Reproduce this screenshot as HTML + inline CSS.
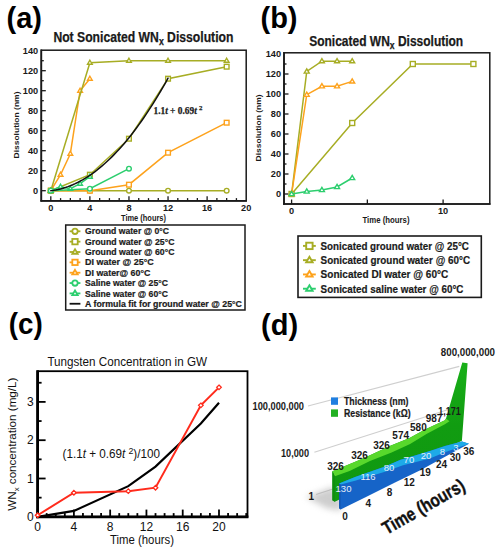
<!DOCTYPE html>
<html><head><meta charset="utf-8"><style>
html,body{margin:0;padding:0;background:#fff;width:501px;height:550px;overflow:hidden}
svg{display:block}
</style></head><body>
<svg width="501" height="550" viewBox="0 0 501 550">
<rect width="501" height="550" fill="#fff"/>
<rect x="41.3" y="50.2" width="204.89999999999998" height="150.60000000000002" fill="none" stroke="#1a1a1a" stroke-width="1.5"/>
<line x1="41.3" y1="49.5" x2="41.3" y2="201.5" stroke="#1a1a1a" stroke-width="1.7"/>
<line x1="40.4" y1="200.8" x2="246.89999999999998" y2="200.8" stroke="#1a1a1a" stroke-width="1.7"/>
<line x1="41.30" y1="190.70" x2="45.80" y2="190.70" stroke="#1a1a1a" stroke-width="1.3" />
<line x1="41.30" y1="180.70" x2="43.80" y2="180.70" stroke="#1a1a1a" stroke-width="1.3" />
<line x1="41.30" y1="170.70" x2="45.80" y2="170.70" stroke="#1a1a1a" stroke-width="1.3" />
<line x1="41.30" y1="160.70" x2="43.80" y2="160.70" stroke="#1a1a1a" stroke-width="1.3" />
<line x1="41.30" y1="150.70" x2="45.80" y2="150.70" stroke="#1a1a1a" stroke-width="1.3" />
<line x1="41.30" y1="140.70" x2="43.80" y2="140.70" stroke="#1a1a1a" stroke-width="1.3" />
<line x1="41.30" y1="130.70" x2="45.80" y2="130.70" stroke="#1a1a1a" stroke-width="1.3" />
<line x1="41.30" y1="120.70" x2="43.80" y2="120.70" stroke="#1a1a1a" stroke-width="1.3" />
<line x1="41.30" y1="110.70" x2="45.80" y2="110.70" stroke="#1a1a1a" stroke-width="1.3" />
<line x1="41.30" y1="100.70" x2="43.80" y2="100.70" stroke="#1a1a1a" stroke-width="1.3" />
<line x1="41.30" y1="90.70" x2="45.80" y2="90.70" stroke="#1a1a1a" stroke-width="1.3" />
<line x1="41.30" y1="80.70" x2="43.80" y2="80.70" stroke="#1a1a1a" stroke-width="1.3" />
<line x1="41.30" y1="70.70" x2="45.80" y2="70.70" stroke="#1a1a1a" stroke-width="1.3" />
<line x1="41.30" y1="60.70" x2="43.80" y2="60.70" stroke="#1a1a1a" stroke-width="1.3" />
<line x1="50.80" y1="200.80" x2="50.80" y2="196.30" stroke="#1a1a1a" stroke-width="1.3" />
<line x1="60.57" y1="200.80" x2="60.57" y2="198.10" stroke="#1a1a1a" stroke-width="1.3" />
<line x1="70.34" y1="200.80" x2="70.34" y2="198.10" stroke="#1a1a1a" stroke-width="1.3" />
<line x1="80.11" y1="200.80" x2="80.11" y2="198.10" stroke="#1a1a1a" stroke-width="1.3" />
<line x1="89.88" y1="200.80" x2="89.88" y2="196.30" stroke="#1a1a1a" stroke-width="1.3" />
<line x1="99.65" y1="200.80" x2="99.65" y2="198.10" stroke="#1a1a1a" stroke-width="1.3" />
<line x1="109.42" y1="200.80" x2="109.42" y2="198.10" stroke="#1a1a1a" stroke-width="1.3" />
<line x1="119.19" y1="200.80" x2="119.19" y2="198.10" stroke="#1a1a1a" stroke-width="1.3" />
<line x1="128.96" y1="200.80" x2="128.96" y2="196.30" stroke="#1a1a1a" stroke-width="1.3" />
<line x1="138.73" y1="200.80" x2="138.73" y2="198.10" stroke="#1a1a1a" stroke-width="1.3" />
<line x1="148.50" y1="200.80" x2="148.50" y2="198.10" stroke="#1a1a1a" stroke-width="1.3" />
<line x1="158.27" y1="200.80" x2="158.27" y2="198.10" stroke="#1a1a1a" stroke-width="1.3" />
<line x1="168.04" y1="200.80" x2="168.04" y2="196.30" stroke="#1a1a1a" stroke-width="1.3" />
<line x1="177.81" y1="200.80" x2="177.81" y2="198.10" stroke="#1a1a1a" stroke-width="1.3" />
<line x1="187.58" y1="200.80" x2="187.58" y2="198.10" stroke="#1a1a1a" stroke-width="1.3" />
<line x1="197.35" y1="200.80" x2="197.35" y2="198.10" stroke="#1a1a1a" stroke-width="1.3" />
<line x1="207.12" y1="200.80" x2="207.12" y2="196.30" stroke="#1a1a1a" stroke-width="1.3" />
<line x1="216.89" y1="200.80" x2="216.89" y2="198.10" stroke="#1a1a1a" stroke-width="1.3" />
<line x1="226.66" y1="200.80" x2="226.66" y2="198.10" stroke="#1a1a1a" stroke-width="1.3" />
<line x1="236.43" y1="200.80" x2="236.43" y2="198.10" stroke="#1a1a1a" stroke-width="1.3" />
<text x="38.20" y="194.00" font-size="9.2" text-anchor="end" font-weight="bold" font-family='"Liberation Sans", sans-serif' fill="#1a1a1a" >0</text>
<text x="38.20" y="174.00" font-size="9.2" text-anchor="end" font-weight="bold" font-family='"Liberation Sans", sans-serif' fill="#1a1a1a" >20</text>
<text x="38.20" y="154.00" font-size="9.2" text-anchor="end" font-weight="bold" font-family='"Liberation Sans", sans-serif' fill="#1a1a1a" >40</text>
<text x="38.20" y="134.00" font-size="9.2" text-anchor="end" font-weight="bold" font-family='"Liberation Sans", sans-serif' fill="#1a1a1a" >60</text>
<text x="38.20" y="114.00" font-size="9.2" text-anchor="end" font-weight="bold" font-family='"Liberation Sans", sans-serif' fill="#1a1a1a" >80</text>
<text x="38.20" y="94.00" font-size="9.2" text-anchor="end" font-weight="bold" font-family='"Liberation Sans", sans-serif' fill="#1a1a1a" >100</text>
<text x="38.20" y="74.00" font-size="9.2" text-anchor="end" font-weight="bold" font-family='"Liberation Sans", sans-serif' fill="#1a1a1a" >120</text>
<text x="38.20" y="54.00" font-size="9.2" text-anchor="end" font-weight="bold" font-family='"Liberation Sans", sans-serif' fill="#1a1a1a" >140</text>
<text x="50.80" y="211.30" font-size="9.2" text-anchor="middle" font-weight="bold" font-family='"Liberation Sans", sans-serif' fill="#1a1a1a" >0</text>
<text x="89.88" y="211.30" font-size="9.2" text-anchor="middle" font-weight="bold" font-family='"Liberation Sans", sans-serif' fill="#1a1a1a" >4</text>
<text x="128.96" y="211.30" font-size="9.2" text-anchor="middle" font-weight="bold" font-family='"Liberation Sans", sans-serif' fill="#1a1a1a" >8</text>
<text x="168.04" y="211.30" font-size="9.2" text-anchor="middle" font-weight="bold" font-family='"Liberation Sans", sans-serif' fill="#1a1a1a" >12</text>
<text x="207.12" y="211.30" font-size="9.2" text-anchor="middle" font-weight="bold" font-family='"Liberation Sans", sans-serif' fill="#1a1a1a" >16</text>
<text x="246.20" y="211.30" font-size="9.2" text-anchor="middle" font-weight="bold" font-family='"Liberation Sans", sans-serif' fill="#1a1a1a" >20</text>
<text x="143.50" y="220.80" font-size="8.5" text-anchor="middle" font-weight="bold" font-family='"Liberation Sans", sans-serif' fill="#1a1a1a" textLength="45" lengthAdjust="spacingAndGlyphs">Time (hours)</text>
<text x="0" y="0" transform="translate(19.4,125) rotate(-90)" font-size="7.8" text-anchor="middle" font-weight="bold" font-family='"Liberation Sans", sans-serif' fill="#1a1a1a" textLength="67" lengthAdjust="spacingAndGlyphs">Dissolution (nm)</text>
<text x="53.4" y="41.8" font-size="14" font-weight="bold" font-family='"Liberation Sans", sans-serif' fill="#1a1a1a" stroke="#1a1a1a" stroke-width="0.25" textLength="180" lengthAdjust="spacingAndGlyphs">Not Sonicated WN<tspan font-size="10" dy="3">x</tspan><tspan dy="-3"> Dissolution</tspan></text>
<text x="6.50" y="28.10" font-size="29" text-anchor="start" font-weight="bold" font-family='"Liberation Sans", sans-serif' fill="#000" >(a)</text>
<polyline points="50.80,190.70 89.88,190.70 128.96,190.70 168.04,190.70 226.66,190.70" fill="none" stroke="#a7ad24" stroke-width="1.5" stroke-linejoin="miter" />
<circle cx="50.80" cy="190.70" r="2.35" fill="#fff" stroke="#a7ad24" stroke-width="1.4"/>
<circle cx="89.88" cy="190.70" r="2.35" fill="#fff" stroke="#a7ad24" stroke-width="1.4"/>
<circle cx="128.96" cy="190.70" r="2.35" fill="#fff" stroke="#a7ad24" stroke-width="1.4"/>
<circle cx="168.04" cy="190.70" r="2.35" fill="#fff" stroke="#a7ad24" stroke-width="1.4"/>
<circle cx="226.66" cy="190.70" r="2.35" fill="#fff" stroke="#a7ad24" stroke-width="1.4"/>
<polyline points="50.80,190.70 89.88,190.70 128.96,184.70 168.04,152.70 226.66,122.70" fill="none" stroke="#fda21c" stroke-width="1.5" stroke-linejoin="miter" />
<rect x="48.45" y="188.35" width="4.70" height="4.70" fill="#fff" stroke="#fda21c" stroke-width="1.4"/>
<rect x="87.53" y="188.35" width="4.70" height="4.70" fill="#fff" stroke="#fda21c" stroke-width="1.4"/>
<rect x="126.61" y="182.35" width="4.70" height="4.70" fill="#fff" stroke="#fda21c" stroke-width="1.4"/>
<rect x="165.69" y="150.35" width="4.70" height="4.70" fill="#fff" stroke="#fda21c" stroke-width="1.4"/>
<rect x="224.31" y="120.35" width="4.70" height="4.70" fill="#fff" stroke="#fda21c" stroke-width="1.4"/>
<polyline points="50.80,190.70 60.57,174.70 70.34,153.70 80.11,90.70 89.88,78.70" fill="none" stroke="#fda21c" stroke-width="1.5" stroke-linejoin="miter" />
<polygon points="50.80,188.23 53.15,192.23 48.45,192.23" fill="#fff" stroke="#fda21c" stroke-width="1.4" stroke-linejoin="miter"/>
<polygon points="60.57,172.23 62.92,176.23 58.22,176.23" fill="#fff" stroke="#fda21c" stroke-width="1.4" stroke-linejoin="miter"/>
<polygon points="70.34,151.23 72.69,155.23 67.99,155.23" fill="#fff" stroke="#fda21c" stroke-width="1.4" stroke-linejoin="miter"/>
<polygon points="80.11,88.23 82.46,92.23 77.76,92.23" fill="#fff" stroke="#fda21c" stroke-width="1.4" stroke-linejoin="miter"/>
<polygon points="89.88,76.23 92.23,80.23 87.53,80.23" fill="#fff" stroke="#fda21c" stroke-width="1.4" stroke-linejoin="miter"/>
<polyline points="50.80,190.70 89.88,62.70 128.96,60.70 168.04,60.70 226.66,60.70" fill="none" stroke="#a7ad24" stroke-width="1.5" stroke-linejoin="miter" />
<polygon points="50.80,188.23 53.15,192.23 48.45,192.23" fill="#fff" stroke="#a7ad24" stroke-width="1.4" stroke-linejoin="miter"/>
<polygon points="89.88,60.23 92.23,64.23 87.53,64.23" fill="#fff" stroke="#a7ad24" stroke-width="1.4" stroke-linejoin="miter"/>
<polygon points="128.96,58.23 131.31,62.23 126.61,62.23" fill="#fff" stroke="#a7ad24" stroke-width="1.4" stroke-linejoin="miter"/>
<polygon points="168.04,58.23 170.39,62.23 165.69,62.23" fill="#fff" stroke="#a7ad24" stroke-width="1.4" stroke-linejoin="miter"/>
<polygon points="226.66,58.23 229.01,62.23 224.31,62.23" fill="#fff" stroke="#a7ad24" stroke-width="1.4" stroke-linejoin="miter"/>
<polyline points="50.80,190.70 89.88,174.70 128.96,138.70 168.04,78.70 226.66,66.70" fill="none" stroke="#a7ad24" stroke-width="1.5" stroke-linejoin="miter" />
<rect x="48.45" y="188.35" width="4.70" height="4.70" fill="#fff" stroke="#a7ad24" stroke-width="1.4"/>
<rect x="87.53" y="172.35" width="4.70" height="4.70" fill="#fff" stroke="#a7ad24" stroke-width="1.4"/>
<rect x="126.61" y="136.35" width="4.70" height="4.70" fill="#fff" stroke="#a7ad24" stroke-width="1.4"/>
<rect x="165.69" y="76.35" width="4.70" height="4.70" fill="#fff" stroke="#a7ad24" stroke-width="1.4"/>
<rect x="224.31" y="64.35" width="4.70" height="4.70" fill="#fff" stroke="#a7ad24" stroke-width="1.4"/>
<polyline points="50.80,190.70 60.57,186.70 70.34,188.70 80.11,183.70 89.88,176.70" fill="none" stroke="#2cce6e" stroke-width="1.5" stroke-linejoin="miter" />
<polygon points="50.80,188.23 53.15,192.23 48.45,192.23" fill="#fff" stroke="#2cce6e" stroke-width="1.4" stroke-linejoin="miter"/>
<polygon points="60.57,184.23 62.92,188.23 58.22,188.23" fill="#fff" stroke="#2cce6e" stroke-width="1.4" stroke-linejoin="miter"/>
<polygon points="70.34,186.23 72.69,190.23 67.99,190.23" fill="#fff" stroke="#2cce6e" stroke-width="1.4" stroke-linejoin="miter"/>
<polygon points="80.11,181.23 82.46,185.23 77.76,185.23" fill="#fff" stroke="#2cce6e" stroke-width="1.4" stroke-linejoin="miter"/>
<polygon points="89.88,174.23 92.23,178.23 87.53,178.23" fill="#fff" stroke="#2cce6e" stroke-width="1.4" stroke-linejoin="miter"/>
<polyline points="50.80,190.70 89.88,188.70 128.96,168.70" fill="none" stroke="#2cce6e" stroke-width="1.5" stroke-linejoin="miter" />
<circle cx="50.80" cy="190.70" r="2.35" fill="#fff" stroke="#2cce6e" stroke-width="1.4"/>
<circle cx="89.88" cy="188.70" r="2.35" fill="#fff" stroke="#2cce6e" stroke-width="1.4"/>
<circle cx="128.96" cy="168.70" r="2.35" fill="#fff" stroke="#2cce6e" stroke-width="1.4"/>
<polyline points="50.80,190.70 53.24,190.38 55.68,189.98 58.13,189.49 60.57,188.91 63.01,188.25 65.45,187.50 67.90,186.66 70.34,185.74 72.78,184.73 75.22,183.64 77.67,182.46 80.11,181.19 82.55,179.84 85.00,178.40 87.44,176.87 89.88,175.26 92.32,173.56 94.76,171.78 97.21,169.91 99.65,167.95 102.09,165.91 104.53,163.78 106.98,161.56 109.42,159.26 111.86,156.87 114.30,154.40 116.75,151.84 119.19,149.19 121.63,146.46 124.07,143.64 126.52,140.73 128.96,137.74 131.40,134.66 133.84,131.50 136.29,128.25 138.73,124.91 141.17,121.49 143.62,117.98 146.06,114.38 148.50,110.70 150.94,106.93 153.38,103.08 155.83,99.14 158.27,95.11 160.71,91.00 163.15,86.80 165.60,82.51 168.04,78.14" fill="none" stroke="#111" stroke-width="1.5" stroke-linejoin="miter" stroke-linecap="round"/>
<text x="153.5" y="113.8" font-size="9.6" font-weight="bold" font-family='"Liberation Serif", serif' fill="#1a1a1a" stroke="#1a1a1a" stroke-width="0.25" textLength="49" lengthAdjust="spacingAndGlyphs">1.1<tspan font-style="italic">t</tspan> + 0.69<tspan font-style="italic">t</tspan> <tspan dy="-3.6" font-size="7">2</tspan></text>
<rect x="65.7" y="225" width="179.3" height="85" fill="#fff" stroke="#1a1a1a" stroke-width="1.5"/>
<line x1="69.60" y1="231.30" x2="80.40" y2="231.30" stroke="#a7ad24" stroke-width="1.8" />
<circle cx="75.00" cy="231.30" r="2.70" fill="#fff" stroke="#a7ad24" stroke-width="1.8"/>
<text x="85.10" y="234.40" font-size="8.8" text-anchor="start" font-weight="bold" font-family='"Liberation Sans", sans-serif' fill="#1a1a1a" textLength="83.9" lengthAdjust="spacingAndGlyphs" stroke="#1a1a1a" stroke-width="0.2">Ground water @ 0°C</text>
<line x1="69.60" y1="241.65" x2="80.40" y2="241.65" stroke="#a7ad24" stroke-width="1.8" />
<rect x="72.30" y="238.95" width="5.40" height="5.40" fill="#fff" stroke="#a7ad24" stroke-width="1.8"/>
<text x="85.10" y="244.75" font-size="8.8" text-anchor="start" font-weight="bold" font-family='"Liberation Sans", sans-serif' fill="#1a1a1a" textLength="89.4" lengthAdjust="spacingAndGlyphs" stroke="#1a1a1a" stroke-width="0.2">Ground water @ 25°C</text>
<line x1="69.60" y1="252.00" x2="80.40" y2="252.00" stroke="#a7ad24" stroke-width="1.8" />
<polygon points="75.00,249.16 77.70,253.75 72.30,253.75" fill="#fff" stroke="#a7ad24" stroke-width="1.8" stroke-linejoin="miter"/>
<text x="85.10" y="255.10" font-size="8.8" text-anchor="start" font-weight="bold" font-family='"Liberation Sans", sans-serif' fill="#1a1a1a" textLength="89.4" lengthAdjust="spacingAndGlyphs" stroke="#1a1a1a" stroke-width="0.2">Ground water @ 60°C</text>
<line x1="69.60" y1="262.35" x2="80.40" y2="262.35" stroke="#fda21c" stroke-width="1.8" />
<rect x="72.30" y="259.65" width="5.40" height="5.40" fill="#fff" stroke="#fda21c" stroke-width="1.8"/>
<text x="85.10" y="265.45" font-size="8.8" text-anchor="start" font-weight="bold" font-family='"Liberation Sans", sans-serif' fill="#1a1a1a" textLength="68.6" lengthAdjust="spacingAndGlyphs" stroke="#1a1a1a" stroke-width="0.2">DI water @ 25°C</text>
<line x1="69.60" y1="272.70" x2="80.40" y2="272.70" stroke="#fda21c" stroke-width="1.8" />
<polygon points="75.00,269.87 77.70,274.45 72.30,274.45" fill="#fff" stroke="#fda21c" stroke-width="1.8" stroke-linejoin="miter"/>
<text x="85.10" y="275.80" font-size="8.8" text-anchor="start" font-weight="bold" font-family='"Liberation Sans", sans-serif' fill="#1a1a1a" textLength="65.3" lengthAdjust="spacingAndGlyphs" stroke="#1a1a1a" stroke-width="0.2">DI water@ 60°C</text>
<line x1="69.60" y1="283.05" x2="80.40" y2="283.05" stroke="#2cce6e" stroke-width="1.8" />
<circle cx="75.00" cy="283.05" r="2.70" fill="#fff" stroke="#2cce6e" stroke-width="1.8"/>
<text x="85.10" y="286.15" font-size="8.8" text-anchor="start" font-weight="bold" font-family='"Liberation Sans", sans-serif' fill="#1a1a1a" textLength="82.8" lengthAdjust="spacingAndGlyphs" stroke="#1a1a1a" stroke-width="0.2">Saline water @ 25°C</text>
<line x1="69.60" y1="293.40" x2="80.40" y2="293.40" stroke="#2cce6e" stroke-width="1.8" />
<polygon points="75.00,290.56 77.70,295.15 72.30,295.15" fill="#fff" stroke="#2cce6e" stroke-width="1.8" stroke-linejoin="miter"/>
<text x="85.10" y="296.50" font-size="8.8" text-anchor="start" font-weight="bold" font-family='"Liberation Sans", sans-serif' fill="#1a1a1a" textLength="82.8" lengthAdjust="spacingAndGlyphs" stroke="#1a1a1a" stroke-width="0.2">Saline water @ 60°C</text>
<line x1="69.60" y1="303.75" x2="80.40" y2="303.75" stroke="#111" stroke-width="1.8" />
<text x="85.10" y="306.85" font-size="8.8" text-anchor="start" font-weight="bold" font-family='"Liberation Sans", sans-serif' fill="#1a1a1a" textLength="156.8" lengthAdjust="spacingAndGlyphs" stroke="#1a1a1a" stroke-width="0.2">A formula fit for ground water @ 25°C</text>
<rect x="284" y="52.8" width="205.8" height="151.2" fill="none" stroke="#1a1a1a" stroke-width="1.5"/>
<line x1="284" y1="52.099999999999994" x2="284" y2="204.7" stroke="#1a1a1a" stroke-width="1.7"/>
<line x1="283.1" y1="204" x2="490.5" y2="204" stroke="#1a1a1a" stroke-width="1.7"/>
<line x1="284.00" y1="194.00" x2="288.50" y2="194.00" stroke="#1a1a1a" stroke-width="1.3" />
<line x1="284.00" y1="184.00" x2="286.50" y2="184.00" stroke="#1a1a1a" stroke-width="1.3" />
<line x1="284.00" y1="174.00" x2="288.50" y2="174.00" stroke="#1a1a1a" stroke-width="1.3" />
<line x1="284.00" y1="164.00" x2="286.50" y2="164.00" stroke="#1a1a1a" stroke-width="1.3" />
<line x1="284.00" y1="154.00" x2="288.50" y2="154.00" stroke="#1a1a1a" stroke-width="1.3" />
<line x1="284.00" y1="144.00" x2="286.50" y2="144.00" stroke="#1a1a1a" stroke-width="1.3" />
<line x1="284.00" y1="134.00" x2="288.50" y2="134.00" stroke="#1a1a1a" stroke-width="1.3" />
<line x1="284.00" y1="124.00" x2="286.50" y2="124.00" stroke="#1a1a1a" stroke-width="1.3" />
<line x1="284.00" y1="114.00" x2="288.50" y2="114.00" stroke="#1a1a1a" stroke-width="1.3" />
<line x1="284.00" y1="104.00" x2="286.50" y2="104.00" stroke="#1a1a1a" stroke-width="1.3" />
<line x1="284.00" y1="94.00" x2="288.50" y2="94.00" stroke="#1a1a1a" stroke-width="1.3" />
<line x1="284.00" y1="84.00" x2="286.50" y2="84.00" stroke="#1a1a1a" stroke-width="1.3" />
<line x1="284.00" y1="74.00" x2="288.50" y2="74.00" stroke="#1a1a1a" stroke-width="1.3" />
<line x1="284.00" y1="64.00" x2="286.50" y2="64.00" stroke="#1a1a1a" stroke-width="1.3" />
<line x1="291.60" y1="204.00" x2="291.60" y2="199.50" stroke="#1a1a1a" stroke-width="1.3" />
<line x1="367.35" y1="204.00" x2="367.35" y2="199.50" stroke="#1a1a1a" stroke-width="1.3" />
<line x1="443.10" y1="204.00" x2="443.10" y2="199.50" stroke="#1a1a1a" stroke-width="1.3" />
<text x="281.00" y="197.30" font-size="9.2" text-anchor="end" font-weight="bold" font-family='"Liberation Sans", sans-serif' fill="#1a1a1a" >0</text>
<text x="281.00" y="177.30" font-size="9.2" text-anchor="end" font-weight="bold" font-family='"Liberation Sans", sans-serif' fill="#1a1a1a" >20</text>
<text x="281.00" y="157.30" font-size="9.2" text-anchor="end" font-weight="bold" font-family='"Liberation Sans", sans-serif' fill="#1a1a1a" >40</text>
<text x="281.00" y="137.30" font-size="9.2" text-anchor="end" font-weight="bold" font-family='"Liberation Sans", sans-serif' fill="#1a1a1a" >60</text>
<text x="281.00" y="117.30" font-size="9.2" text-anchor="end" font-weight="bold" font-family='"Liberation Sans", sans-serif' fill="#1a1a1a" >80</text>
<text x="281.00" y="97.30" font-size="9.2" text-anchor="end" font-weight="bold" font-family='"Liberation Sans", sans-serif' fill="#1a1a1a" >100</text>
<text x="281.00" y="77.30" font-size="9.2" text-anchor="end" font-weight="bold" font-family='"Liberation Sans", sans-serif' fill="#1a1a1a" >120</text>
<text x="281.00" y="57.30" font-size="9.2" text-anchor="end" font-weight="bold" font-family='"Liberation Sans", sans-serif' fill="#1a1a1a" >140</text>
<text x="291.60" y="214.40" font-size="9.2" text-anchor="middle" font-weight="bold" font-family='"Liberation Sans", sans-serif' fill="#1a1a1a" >0</text>
<text x="443.10" y="214.40" font-size="9.2" text-anchor="middle" font-weight="bold" font-family='"Liberation Sans", sans-serif' fill="#1a1a1a" >10</text>
<text x="386.00" y="223.20" font-size="8.5" text-anchor="middle" font-weight="bold" font-family='"Liberation Sans", sans-serif' fill="#1a1a1a" textLength="47" lengthAdjust="spacingAndGlyphs">Time (hours)</text>
<text x="0" y="0" transform="translate(261.2,127.9) rotate(-90)" font-size="7.8" text-anchor="middle" font-weight="bold" font-family='"Liberation Sans", sans-serif' fill="#1a1a1a" textLength="67" lengthAdjust="spacingAndGlyphs">Dissolution (nm)</text>
<text x="309.2" y="45.8" font-size="14" font-weight="bold" font-family='"Liberation Sans", sans-serif' fill="#1a1a1a" stroke="#1a1a1a" stroke-width="0.25" textLength="154" lengthAdjust="spacingAndGlyphs">Sonicated WN<tspan font-size="10" dy="3">x</tspan><tspan dy="-3"> Dissolution</tspan></text>
<text x="260.50" y="28.10" font-size="29" text-anchor="start" font-weight="bold" font-family='"Liberation Sans", sans-serif' fill="#000" >(b)</text>
<polyline points="291.60,194.00 352.20,123.00 412.80,64.00 473.40,64.00" fill="none" stroke="#a7ad24" stroke-width="1.5" stroke-linejoin="miter" />
<rect x="289.10" y="191.50" width="5.00" height="5.00" fill="#fff" stroke="#a7ad24" stroke-width="1.4"/>
<rect x="349.70" y="120.50" width="5.00" height="5.00" fill="#fff" stroke="#a7ad24" stroke-width="1.4"/>
<rect x="410.30" y="61.50" width="5.00" height="5.00" fill="#fff" stroke="#a7ad24" stroke-width="1.4"/>
<rect x="470.90" y="61.50" width="5.00" height="5.00" fill="#fff" stroke="#a7ad24" stroke-width="1.4"/>
<polyline points="291.60,194.00 306.75,71.50 321.90,61.20 337.05,61.20 352.20,61.20" fill="none" stroke="#a7ad24" stroke-width="1.5" stroke-linejoin="miter" />
<polygon points="291.60,191.38 294.10,195.62 289.10,195.62" fill="#fff" stroke="#a7ad24" stroke-width="1.4" stroke-linejoin="miter"/>
<polygon points="306.75,68.88 309.25,73.12 304.25,73.12" fill="#fff" stroke="#a7ad24" stroke-width="1.4" stroke-linejoin="miter"/>
<polygon points="321.90,58.57 324.40,62.82 319.40,62.82" fill="#fff" stroke="#a7ad24" stroke-width="1.4" stroke-linejoin="miter"/>
<polygon points="337.05,58.57 339.55,62.82 334.55,62.82" fill="#fff" stroke="#a7ad24" stroke-width="1.4" stroke-linejoin="miter"/>
<polygon points="352.20,58.57 354.70,62.82 349.70,62.82" fill="#fff" stroke="#a7ad24" stroke-width="1.4" stroke-linejoin="miter"/>
<polyline points="291.60,194.00 306.75,94.70 321.90,86.30 337.05,86.30 352.20,81.40" fill="none" stroke="#fda21c" stroke-width="1.5" stroke-linejoin="miter" />
<polygon points="291.60,191.38 294.10,195.62 289.10,195.62" fill="#fff" stroke="#fda21c" stroke-width="1.4" stroke-linejoin="miter"/>
<polygon points="306.75,92.08 309.25,96.33 304.25,96.33" fill="#fff" stroke="#fda21c" stroke-width="1.4" stroke-linejoin="miter"/>
<polygon points="321.90,83.67 324.40,87.92 319.40,87.92" fill="#fff" stroke="#fda21c" stroke-width="1.4" stroke-linejoin="miter"/>
<polygon points="337.05,83.67 339.55,87.92 334.55,87.92" fill="#fff" stroke="#fda21c" stroke-width="1.4" stroke-linejoin="miter"/>
<polygon points="352.20,78.78 354.70,83.03 349.70,83.03" fill="#fff" stroke="#fda21c" stroke-width="1.4" stroke-linejoin="miter"/>
<polyline points="291.60,194.00 306.75,191.50 321.90,190.00 337.05,187.00 352.20,178.00" fill="none" stroke="#2cce6e" stroke-width="1.5" stroke-linejoin="miter" />
<polygon points="291.60,191.38 294.10,195.62 289.10,195.62" fill="#fff" stroke="#2cce6e" stroke-width="1.4" stroke-linejoin="miter"/>
<polygon points="306.75,188.88 309.25,193.12 304.25,193.12" fill="#fff" stroke="#2cce6e" stroke-width="1.4" stroke-linejoin="miter"/>
<polygon points="321.90,187.38 324.40,191.62 319.40,191.62" fill="#fff" stroke="#2cce6e" stroke-width="1.4" stroke-linejoin="miter"/>
<polygon points="337.05,184.38 339.55,188.62 334.55,188.62" fill="#fff" stroke="#2cce6e" stroke-width="1.4" stroke-linejoin="miter"/>
<polygon points="352.20,175.38 354.70,179.62 349.70,179.62" fill="#fff" stroke="#2cce6e" stroke-width="1.4" stroke-linejoin="miter"/>
<rect x="298" y="236" width="183.3" height="61.4" fill="#fff" stroke="#1a1a1a" stroke-width="1.6"/>
<line x1="303.00" y1="245.90" x2="315.80" y2="245.90" stroke="#a7ad24" stroke-width="1.9" />
<rect x="306.20" y="242.70" width="6.40" height="6.40" fill="#fff" stroke="#a7ad24" stroke-width="1.9"/>
<text x="320.60" y="249.80" font-size="11" text-anchor="start" font-weight="bold" font-family='"Liberation Sans", sans-serif' fill="#1a1a1a" textLength="148.3" lengthAdjust="spacingAndGlyphs" stroke="#1a1a1a" stroke-width="0.2">Sonicated ground water @ 25°C</text>
<line x1="303.00" y1="260.17" x2="315.80" y2="260.17" stroke="#a7ad24" stroke-width="1.9" />
<polygon points="309.40,256.81 312.60,262.25 306.20,262.25" fill="#fff" stroke="#a7ad24" stroke-width="1.9" stroke-linejoin="miter"/>
<text x="320.60" y="264.07" font-size="11" text-anchor="start" font-weight="bold" font-family='"Liberation Sans", sans-serif' fill="#1a1a1a" textLength="149.5" lengthAdjust="spacingAndGlyphs" stroke="#1a1a1a" stroke-width="0.2">Sonicated ground water @ 60°C</text>
<line x1="303.00" y1="274.44" x2="315.80" y2="274.44" stroke="#fda21c" stroke-width="1.9" />
<polygon points="309.40,271.08 312.60,276.52 306.20,276.52" fill="#fff" stroke="#fda21c" stroke-width="1.9" stroke-linejoin="miter"/>
<text x="320.60" y="278.34" font-size="11" text-anchor="start" font-weight="bold" font-family='"Liberation Sans", sans-serif' fill="#1a1a1a" textLength="127.7" lengthAdjust="spacingAndGlyphs" stroke="#1a1a1a" stroke-width="0.2">Sonicated DI water @ 60°C</text>
<line x1="303.00" y1="288.71" x2="315.80" y2="288.71" stroke="#2cce6e" stroke-width="1.9" />
<polygon points="309.40,285.35 312.60,290.79 306.20,290.79" fill="#fff" stroke="#2cce6e" stroke-width="1.9" stroke-linejoin="miter"/>
<text x="320.60" y="292.61" font-size="11" text-anchor="start" font-weight="bold" font-family='"Liberation Sans", sans-serif' fill="#1a1a1a" textLength="142.8" lengthAdjust="spacingAndGlyphs" stroke="#1a1a1a" stroke-width="0.2">Sonicated saline water @ 60°C</text>
<rect x="37.6" y="371.2" width="209.9" height="145.59999999999997" fill="none" stroke="#000" stroke-width="1.8"/>
<line x1="37.6" y1="370.3" x2="37.6" y2="518.1999999999999" stroke="#000" stroke-width="2.8"/>
<line x1="36.2" y1="516.8" x2="248.4" y2="516.8" stroke="#000" stroke-width="2.8"/>
<line x1="37.60" y1="516.80" x2="45.60" y2="516.80" stroke="#000" stroke-width="1.8" />
<line x1="37.60" y1="497.65" x2="41.60" y2="497.65" stroke="#000" stroke-width="1.8" />
<line x1="37.60" y1="478.50" x2="45.60" y2="478.50" stroke="#000" stroke-width="1.8" />
<line x1="37.60" y1="459.35" x2="41.60" y2="459.35" stroke="#000" stroke-width="1.8" />
<line x1="37.60" y1="440.20" x2="45.60" y2="440.20" stroke="#000" stroke-width="1.8" />
<line x1="37.60" y1="421.05" x2="41.60" y2="421.05" stroke="#000" stroke-width="1.8" />
<line x1="37.60" y1="401.90" x2="45.60" y2="401.90" stroke="#000" stroke-width="1.8" />
<line x1="37.60" y1="382.75" x2="41.60" y2="382.75" stroke="#000" stroke-width="1.8" />
<line x1="37.60" y1="516.80" x2="37.60" y2="509.60" stroke="#000" stroke-width="1.8" />
<line x1="46.67" y1="516.80" x2="46.67" y2="513.10" stroke="#000" stroke-width="1.8" />
<line x1="55.74" y1="516.80" x2="55.74" y2="513.10" stroke="#000" stroke-width="1.8" />
<line x1="64.81" y1="516.80" x2="64.81" y2="513.10" stroke="#000" stroke-width="1.8" />
<line x1="73.88" y1="516.80" x2="73.88" y2="509.60" stroke="#000" stroke-width="1.8" />
<line x1="82.95" y1="516.80" x2="82.95" y2="513.10" stroke="#000" stroke-width="1.8" />
<line x1="92.02" y1="516.80" x2="92.02" y2="513.10" stroke="#000" stroke-width="1.8" />
<line x1="101.09" y1="516.80" x2="101.09" y2="513.10" stroke="#000" stroke-width="1.8" />
<line x1="110.16" y1="516.80" x2="110.16" y2="509.60" stroke="#000" stroke-width="1.8" />
<line x1="119.23" y1="516.80" x2="119.23" y2="513.10" stroke="#000" stroke-width="1.8" />
<line x1="128.30" y1="516.80" x2="128.30" y2="513.10" stroke="#000" stroke-width="1.8" />
<line x1="137.37" y1="516.80" x2="137.37" y2="513.10" stroke="#000" stroke-width="1.8" />
<line x1="146.44" y1="516.80" x2="146.44" y2="509.60" stroke="#000" stroke-width="1.8" />
<line x1="155.51" y1="516.80" x2="155.51" y2="513.10" stroke="#000" stroke-width="1.8" />
<line x1="164.58" y1="516.80" x2="164.58" y2="513.10" stroke="#000" stroke-width="1.8" />
<line x1="173.65" y1="516.80" x2="173.65" y2="513.10" stroke="#000" stroke-width="1.8" />
<line x1="182.72" y1="516.80" x2="182.72" y2="509.60" stroke="#000" stroke-width="1.8" />
<line x1="191.79" y1="516.80" x2="191.79" y2="513.10" stroke="#000" stroke-width="1.8" />
<line x1="200.86" y1="516.80" x2="200.86" y2="513.10" stroke="#000" stroke-width="1.8" />
<line x1="209.93" y1="516.80" x2="209.93" y2="513.10" stroke="#000" stroke-width="1.8" />
<line x1="219.00" y1="516.80" x2="219.00" y2="509.60" stroke="#000" stroke-width="1.8" />
<line x1="228.07" y1="516.80" x2="228.07" y2="513.10" stroke="#000" stroke-width="1.8" />
<line x1="237.14" y1="516.80" x2="237.14" y2="513.10" stroke="#000" stroke-width="1.8" />
<line x1="246.21" y1="516.80" x2="246.21" y2="513.10" stroke="#000" stroke-width="1.8" />
<text x="33.60" y="521.00" font-size="12" text-anchor="end" font-weight="normal" font-family='"Liberation Sans", sans-serif' fill="#111" >0</text>
<text x="33.60" y="482.70" font-size="12" text-anchor="end" font-weight="normal" font-family='"Liberation Sans", sans-serif' fill="#111" >1</text>
<text x="33.60" y="444.40" font-size="12" text-anchor="end" font-weight="normal" font-family='"Liberation Sans", sans-serif' fill="#111" >2</text>
<text x="33.60" y="406.10" font-size="12" text-anchor="end" font-weight="normal" font-family='"Liberation Sans", sans-serif' fill="#111" >3</text>
<text x="37.60" y="530.70" font-size="12" text-anchor="middle" font-weight="normal" font-family='"Liberation Sans", sans-serif' fill="#111" >0</text>
<text x="73.88" y="530.70" font-size="12" text-anchor="middle" font-weight="normal" font-family='"Liberation Sans", sans-serif' fill="#111" >4</text>
<text x="110.16" y="530.70" font-size="12" text-anchor="middle" font-weight="normal" font-family='"Liberation Sans", sans-serif' fill="#111" >8</text>
<text x="146.44" y="530.70" font-size="12" text-anchor="middle" font-weight="normal" font-family='"Liberation Sans", sans-serif' fill="#111" >12</text>
<text x="182.72" y="530.70" font-size="12" text-anchor="middle" font-weight="normal" font-family='"Liberation Sans", sans-serif' fill="#111" >16</text>
<text x="219.00" y="530.70" font-size="12" text-anchor="middle" font-weight="normal" font-family='"Liberation Sans", sans-serif' fill="#111" >20</text>
<text x="142.00" y="544.20" font-size="12.5" text-anchor="middle" font-weight="normal" font-family='"Liberation Sans", sans-serif' fill="#111" textLength="64" lengthAdjust="spacingAndGlyphs">Time (hours)</text>
<text x="0" y="0" transform="translate(15.6,444.2) rotate(-90)" font-size="11.8" text-anchor="middle" font-family='"Liberation Sans", sans-serif' fill="#111" textLength="133" lengthAdjust="spacingAndGlyphs">WN<tspan font-size="8" dy="3">x</tspan><tspan dy="-3"> concentration (mg/L)</tspan></text>
<text x="47.4" y="365.5" font-size="12" font-family='"Liberation Sans", sans-serif' fill="#111" textLength="159.6" lengthAdjust="spacingAndGlyphs">Tungsten Concentration in GW</text>
<text x="8.80" y="334.30" font-size="29" text-anchor="start" font-weight="bold" font-family='"Liberation Sans", sans-serif' fill="#000" textLength="34" lengthAdjust="spacingAndGlyphs">(c)</text>
<polyline points="37.60,516.80 73.88,510.89 128.30,486.16 155.51,466.66 200.86,423.59 219.00,402.67" fill="none" stroke="#000" stroke-width="2.2" stroke-linejoin="miter" />
<polyline points="37.60,515.27 73.88,492.67 128.30,491.14 155.51,487.69 200.86,405.35 219.00,387.35" fill="none" stroke="#ff2b1c" stroke-width="2.0" stroke-linejoin="miter" />
<polygon points="37.60,512.97 39.90,515.27 37.60,517.57 35.30,515.27" fill="#fff" stroke="#ff2b1c" stroke-width="1.3"/>
<polygon points="73.88,490.37 76.18,492.67 73.88,494.97 71.58,492.67" fill="#fff" stroke="#ff2b1c" stroke-width="1.3"/>
<polygon points="128.30,488.84 130.60,491.14 128.30,493.44 126.00,491.14" fill="#fff" stroke="#ff2b1c" stroke-width="1.3"/>
<polygon points="155.51,485.39 157.81,487.69 155.51,489.99 153.21,487.69" fill="#fff" stroke="#ff2b1c" stroke-width="1.3"/>
<polygon points="200.86,403.05 203.16,405.35 200.86,407.65 198.56,405.35" fill="#fff" stroke="#ff2b1c" stroke-width="1.3"/>
<polygon points="219.00,385.05 221.30,387.35 219.00,389.65 216.70,387.35" fill="#fff" stroke="#ff2b1c" stroke-width="1.3"/>
<text x="62.5" y="458" font-size="12" font-family='"Liberation Sans", sans-serif' fill="#111" textLength="97.5" lengthAdjust="spacingAndGlyphs">(1.1<tspan font-style="italic">t</tspan> + 0.69<tspan font-style="italic">t</tspan> <tspan dy="-4" font-size="9">2</tspan><tspan dy="4">)/100</tspan></text>
<text x="261.10" y="334.60" font-size="29" text-anchor="start" font-weight="bold" font-family='"Liberation Sans", sans-serif' fill="#000" >(d)</text>
<defs><filter id="blur3" x="-50%" y="-50%" width="200%" height="200%"><feGaussianBlur stdDeviation="3"/></filter></defs>
<line x1="316.00" y1="494.50" x2="336.00" y2="488.00" stroke="#cfcfcf" stroke-width="1.2" />
<line x1="314.40" y1="452.30" x2="450.00" y2="409.00" stroke="#cfcfcf" stroke-width="1.2" />
<line x1="308.00" y1="406.00" x2="459.30" y2="366.40" stroke="#cfcfcf" stroke-width="1.2" />
<polygon points="306.00,497.00 333.00,487.00 341.00,499.00 341.00,511.00 326.00,508.00" fill="#9c9c9c" filter="url(#blur3)" opacity="0.5"/>
<text x="304.00" y="409.60" font-size="10" text-anchor="end" font-weight="bold" font-family='"Liberation Sans", sans-serif' fill="#1a1a1a" textLength="51.5" lengthAdjust="spacingAndGlyphs">100,000,000</text>
<text x="309.00" y="457.20" font-size="10" text-anchor="end" font-weight="bold" font-family='"Liberation Sans", sans-serif' fill="#1a1a1a" textLength="28" lengthAdjust="spacingAndGlyphs">10,000</text>
<text x="314.00" y="499.50" font-size="10" text-anchor="end" font-weight="bold" font-family='"Liberation Sans", sans-serif' fill="#1a1a1a" >1</text>
<text x="495.00" y="356.40" font-size="10" text-anchor="end" font-weight="bold" font-family='"Liberation Sans", sans-serif' fill="#1a1a1a" textLength="54.2" lengthAdjust="spacingAndGlyphs">800,000,000</text>
<rect x="331" y="397.4" width="7" height="7.4" fill="#1f7fe0"/>
<rect x="331" y="409.4" width="7" height="7.4" fill="#22b022"/>
<text x="344.00" y="405.00" font-size="10" text-anchor="start" font-weight="bold" font-family='"Liberation Sans", sans-serif' fill="#1a1a1a" textLength="64.4" lengthAdjust="spacingAndGlyphs" stroke="#1a1a1a" stroke-width="0.2">Thickness (nm)</text>
<text x="344.00" y="416.60" font-size="10" text-anchor="start" font-weight="bold" font-family='"Liberation Sans", sans-serif' fill="#1a1a1a" textLength="66.6" lengthAdjust="spacingAndGlyphs" stroke="#1a1a1a" stroke-width="0.2">Resistance (kΩ)</text>
<defs><linearGradient id="gg" x1="0" y1="362" x2="0" y2="502" gradientUnits="userSpaceOnUse"><stop offset="0" stop-color="#18b018"/><stop offset="0.45" stop-color="#119c11"/><stop offset="1" stop-color="#109810"/></linearGradient></defs>
<polygon points="332.40,471.30 357.00,461.00 370.00,455.30 390.40,445.70 409.50,438.00 425.00,429.40 444.90,420.20 446.00,418.50 462.30,362.40 467.60,363.20 461.90,440.70 334.80,501.70 332.40,500.20" fill="url(#gg)" />
<polygon points="332.40,471.30 357.00,461.00 370.00,455.30 390.40,445.70 409.50,438.00 425.00,429.40 444.90,420.20 446.00,418.50 449.50,421.20 444.90,424.20 426.90,433.80 410.10,444.00 391.60,452.60 370.00,461.00 349.60,471.00 334.80,476.20" fill="#58d82c" />
<polygon points="332.40,471.30 334.80,476.20 334.80,501.70 332.40,500.20" fill="#0e8e0e" />
<polygon points="339.10,483.50 355.00,477.00 385.00,466.40 400.50,459.80 415.00,455.60 429.90,451.10 444.90,446.00 462.00,441.60 469.00,443.80 469.00,443.80 440.00,459.60 420.80,470.00 395.00,482.60 365.00,497.40 340.60,509.40 339.10,508.20" fill="#1664c8" />
<polygon points="339.10,483.50 355.00,477.00 385.00,466.40 400.50,459.80 415.00,455.60 429.90,451.10 444.90,446.00 462.00,441.60 469.00,443.80 469.00,443.80 444.90,452.20 429.90,458.60 415.00,462.20 403.00,465.20 385.00,471.80 355.00,480.80 340.60,484.60" fill="#1eaae8" />
<polygon points="339.10,483.50 340.60,484.60 340.60,509.40 339.10,508.20" fill="#1456b0" />
<text x="335.50" y="469.60" font-size="10" text-anchor="middle" font-weight="bold" font-family='"Liberation Sans", sans-serif' fill="#1a1a1a" >326</text>
<text x="359.50" y="458.70" font-size="10" text-anchor="middle" font-weight="bold" font-family='"Liberation Sans", sans-serif' fill="#1a1a1a" >326</text>
<text x="381.50" y="449.10" font-size="10" text-anchor="middle" font-weight="bold" font-family='"Liberation Sans", sans-serif' fill="#1a1a1a" >326</text>
<text x="400.70" y="438.70" font-size="10" text-anchor="middle" font-weight="bold" font-family='"Liberation Sans", sans-serif' fill="#1a1a1a" >574</text>
<text x="418.40" y="430.80" font-size="10" text-anchor="middle" font-weight="bold" font-family='"Liberation Sans", sans-serif' fill="#1a1a1a" >580</text>
<text x="434.00" y="422.00" font-size="10" text-anchor="middle" font-weight="bold" font-family='"Liberation Sans", sans-serif' fill="#1a1a1a" >987</text>
<text x="449.50" y="415.00" font-size="10" text-anchor="middle" font-weight="bold" font-family='"Liberation Sans", sans-serif' fill="#1a1a1a" textLength="22.5" lengthAdjust="spacingAndGlyphs">1,171</text>
<text x="343.50" y="491.70" font-size="9.5" text-anchor="middle" font-weight="normal" font-family='"Liberation Sans", sans-serif' fill="#e8eef8" >130</text>
<text x="368.00" y="479.80" font-size="9.5" text-anchor="middle" font-weight="normal" font-family='"Liberation Sans", sans-serif' fill="#e8eef8" >116</text>
<text x="389.10" y="471.30" font-size="9.5" text-anchor="middle" font-weight="normal" font-family='"Liberation Sans", sans-serif' fill="#e8eef8" >80</text>
<text x="408.90" y="462.50" font-size="9.5" text-anchor="middle" font-weight="normal" font-family='"Liberation Sans", sans-serif' fill="#e8eef8" >70</text>
<text x="426.00" y="459.20" font-size="9.5" text-anchor="middle" font-weight="normal" font-family='"Liberation Sans", sans-serif' fill="#e8eef8" >20</text>
<text x="442.40" y="455.30" font-size="9.5" text-anchor="middle" font-weight="normal" font-family='"Liberation Sans", sans-serif' fill="#e8eef8" >8</text>
<text x="455.90" y="450.50" font-size="9.5" text-anchor="middle" font-weight="normal" font-family='"Liberation Sans", sans-serif' fill="#e8eef8" >3</text>
<text x="345.00" y="519.60" font-size="10" text-anchor="middle" font-weight="bold" font-family='"Liberation Sans", sans-serif' fill="#1a1a1a" >0</text>
<text x="368.30" y="507.40" font-size="10" text-anchor="middle" font-weight="bold" font-family='"Liberation Sans", sans-serif' fill="#1a1a1a" >4</text>
<text x="389.60" y="496.30" font-size="10" text-anchor="middle" font-weight="bold" font-family='"Liberation Sans", sans-serif' fill="#1a1a1a" >8</text>
<text x="409.30" y="485.90" font-size="10" text-anchor="middle" font-weight="bold" font-family='"Liberation Sans", sans-serif' fill="#1a1a1a" >12</text>
<text x="425.20" y="476.30" font-size="10" text-anchor="middle" font-weight="bold" font-family='"Liberation Sans", sans-serif' fill="#1a1a1a" >19</text>
<text x="441.60" y="468.30" font-size="10" text-anchor="middle" font-weight="bold" font-family='"Liberation Sans", sans-serif' fill="#1a1a1a" >24</text>
<text x="455.20" y="461.40" font-size="10" text-anchor="middle" font-weight="bold" font-family='"Liberation Sans", sans-serif' fill="#1a1a1a" >30</text>
<text x="468.70" y="455.00" font-size="10" text-anchor="middle" font-weight="bold" font-family='"Liberation Sans", sans-serif' fill="#1a1a1a" >36</text>
<text x="0" y="0" transform="translate(386.8,535.1) rotate(-30)" font-size="18.5" font-weight="bold" font-family='"Liberation Sans", sans-serif' fill="#111" stroke="#111" stroke-width="0.4" textLength="92" lengthAdjust="spacingAndGlyphs">Time (hours)</text>
</svg></body></html>
